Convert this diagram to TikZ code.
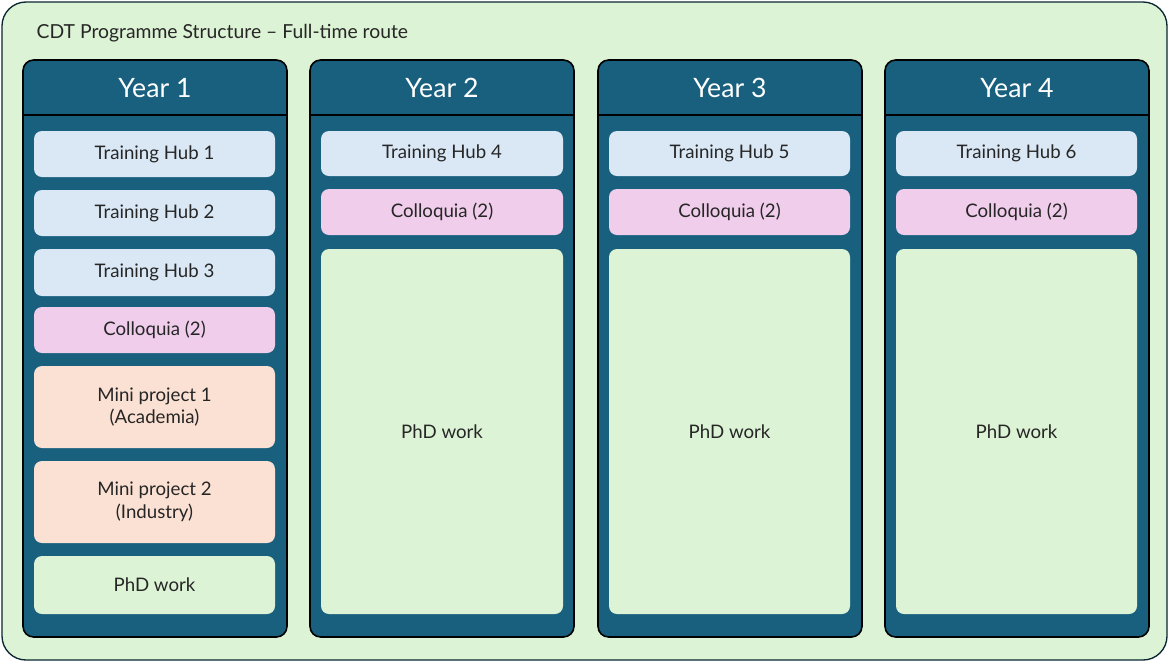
\documentclass[tikz,border=0pt]{standalone}
\usepackage{fontspec}
\setmainfont{Lato}
\definecolor{bg}{HTML}{DDF3D5}
\definecolor{teal}{HTML}{19607F}
\definecolor{hub}{HTML}{DAE8F6}
\definecolor{coll}{HTML}{F0CDEB}
\definecolor{mini}{HTML}{FBE1D3}
\definecolor{phd}{HTML}{DDF3D5}
\tikzset{
 col/.style={draw=black,line width=1.2pt,fill=teal,rounded corners=8pt},
 item/.style={rounded corners=6pt,font=\fontsize{14}{17}\selectfont,align=center,text=black!85},
 yr/.style={text=white,font=\fontsize{20}{24}\selectfont}
}
\begin{document}
\begin{tikzpicture}[x=0.75pt,y=-0.75pt]
\useasboundingbox (0,0) rectangle (1169,662);
\draw[draw=black!60!teal,line width=1pt,fill=bg,rounded corners=18pt] (2,2) rectangle (1167,660);
\node[anchor=west,font=\fontsize{14.5}{17}\selectfont,text=black!85] (title) at (32,33) {CDT Programme Structure – Full-time route};
\foreach \n/\x in {1/23,2/310,3/598,4/885}{
  \draw[col] (\x,60) rectangle ++(264,577);
  \draw[line width=1.2pt] (\x,115) -- ++(264,0);
  \node[yr] (y\n) at (\x+132,88) {Year \n};
}
\newcommand\bx[6]{\fill[#5,rounded corners=6pt] (#1,#2) rectangle (#3,#4); \node[item] (#6) at ({(#1+#3)/2},{(#2+#4)/2}) {};}
\foreach \a/\b/\c/\d/\f/\t/\nm in {
 34/131/275/177/hub/{Training Hub 1}/h1,
 34/190/275/236/hub/{Training Hub 2}/h2,
 34/249/275/296/hub/{Training Hub 3}/h3,
 34/307/275/353/coll/{Colloquia (2)}/c1,
 34/366/275/448/mini/{Mini project 1\\(Academia)}/m1,
 34/461/275/543/mini/{Mini project 2\\(Industry)}/m2,
 34/556/275/614/phd/{PhD work}/p1,
 321/131/563/176/hub/{Training Hub 4}/h4,
 321/189/563/235/coll/{Colloquia (2)}/c2,
 321/249/563/614/phd/{PhD work}/p2,
 609/131/850/176/hub/{Training Hub 5}/h5,
 609/189/850/235/coll/{Colloquia (2)}/c3,
 609/249/850/614/phd/{PhD work}/p3,
 896/131/1137/176/hub/{Training Hub 6}/h6,
 896/189/1137/235/coll/{Colloquia (2)}/c4,
 896/249/1137/614/phd/{PhD work}/p4}{
  \fill[\f,rounded corners=6pt] (\a,\b) rectangle (\c,\d);
  \node[item] (\nm) at ({(\a+\c)/2},{(\b+\d)/2}) {\t};
}
\end{tikzpicture}
\end{document}
